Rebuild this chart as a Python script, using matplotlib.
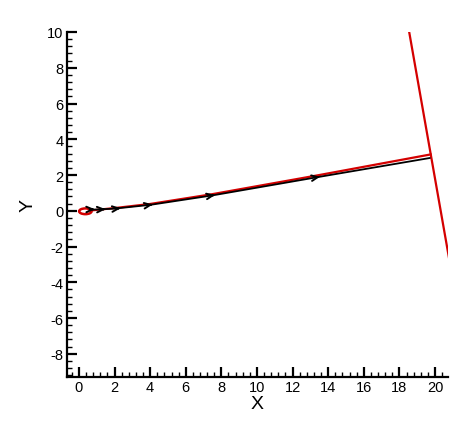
import matplotlib
matplotlib.use("Agg")
import matplotlib.pyplot as plt
from matplotlib.ticker import MultipleLocator
from matplotlib.patches import Ellipse

plt.rcParams['font.family'] = ['Liberation Sans', 'DejaVu Sans']
plt.rcParams['axes.unicode_minus'] = False

# streamline (black) points
black_x = [0.6, 1.0, 2.0, 4.0, 7.5, 13.4, 19.7]
black_y = [0.06, 0.07, 0.12, 0.33, 0.86, 1.88, 2.95]
# arrow positions along black streamline
arrow_x = [0.75, 1.35, 2.2, 4.0, 7.5, 13.4]
arrow_y = [0.08, 0.08, 0.13, 0.33, 0.86, 1.88]
# red line
red_x = [0.7, 2.0, 4.0, 7.5, 13.4, 19.75]
red_y = [0.02, 0.15, 0.38, 0.93, 1.98, 3.15]
# red crossing line
cross_x = [18.55, 21.0]
cross_y = [10.0, -3.85]
# small red loop near origin
loop_center = (0.36, -0.03)
loop_w, loop_h = 0.7, 0.32

fig = plt.figure(figsize=(4.74, 4.27), dpi=100)
ax = fig.add_axes([67/474, 49/427, 381/474, 345/427])
ax.set_xlim(-0.67, 20.73)
ax.set_ylim(-9.3, 10.0)

ax.plot(black_x, black_y, color='black', lw=1.3, zorder=3)
ax.plot(red_x, red_y, color='#d40000', lw=1.6, zorder=2)
ax.plot(cross_x, cross_y, color='#d40000', lw=1.6, zorder=2)
ax.add_patch(Ellipse(loop_center, loop_w, loop_h, fill=False, edgecolor='#d40000', lw=1.8, zorder=2))

for i, (xa, ya) in enumerate(zip(arrow_x, arrow_y)):
    j = min(range(len(black_x) - 1), key=lambda k: abs(black_x[k] - xa))
    j = min(j, len(black_x) - 2)
    dx = black_x[j + 1] - black_x[j]
    dy = black_y[j + 1] - black_y[j]
    n = (dx ** 2 + dy ** 2) ** 0.5
    ax.annotate('', xy=(xa + 0.15 * dx / n, ya + 0.15 * dy / n), xytext=(xa - 0.15 * dx / n, ya - 0.15 * dy / n),
                arrowprops=dict(arrowstyle='->,head_length=0.45,head_width=0.2', color='black', lw=1.4),
                zorder=4)

for s in ['top', 'right']:
    ax.spines[s].set_visible(False)
for s in ['left', 'bottom']:
    ax.spines[s].set_linewidth(1.6)

ax.xaxis.set_major_locator(MultipleLocator(2))
ax.xaxis.set_minor_locator(MultipleLocator(0.4))
ax.yaxis.set_major_locator(MultipleLocator(2))
ax.yaxis.set_minor_locator(MultipleLocator(0.4))
ax.tick_params(which='major', direction='in', length=7, width=1.6, labelsize=10.5, pad=2.5)
ax.tick_params(which='minor', direction='in', length=3.5, width=1.0)

ax.set_xlabel('X', fontsize=14, labelpad=0.5)
ax.set_ylabel('Y', fontsize=14, labelpad=8)

fig.savefig('out.png', dpi=100)
